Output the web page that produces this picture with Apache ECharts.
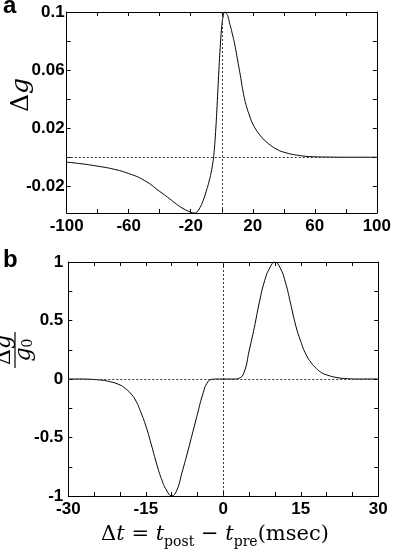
<!DOCTYPE html>
<html>
<head>
<meta charset="utf-8">
<script src="https://cdn.jsdelivr.net/npm/echarts@6/dist/echarts.min.js"></script>
<style>html,body{margin:0;padding:0;background:#fff}#c{width:394px;height:551px}</style>
</head>
<body>
<div id="c"></div>
<script>
// Panel a: Δg vs Δt (ms)
const aX = [-100,-90,-80,-70,-60,-50,-40,-35,-30,-25,-20,-18,-16,-14,-12,-10,-9,-8,-7,-6,-5,-4,-3,-2,-1,0,1,2,3,4,5,6,7,8,9,10,12,14,16,18,20,25,30,35,40,50,60,70,80,90,100];
const aY = [-0.0034,-0.0046,-0.0062,-0.0082,-0.0113,-0.0160,-0.0237,-0.0276,-0.0318,-0.0355,-0.0380,-0.0386,-0.0378,-0.0348,-0.0300,-0.0235,-0.0200,-0.0160,-0.0112,-0.0055,0.0030,0.0170,0.0360,0.0570,0.0760,0.0905,0.0980,0.1005,0.0995,0.0975,0.0930,0.0890,0.0845,0.0800,0.0745,0.0685,0.0565,0.0440,0.0350,0.0285,0.0230,0.0148,0.0095,0.0058,0.0035,0.0012,0.0003,0.0001,0,0,0];
const aXTicks = [-100,-80,-60,-40,-20,0,20,40,60,80,100];
const aXLabels = [-100,-60,-20,20,60,100];
const aYTicks = [-0.02,0,0.02,0.04,0.06,0.08,0.1];
const aYLabels = [-0.02,0.02,0.06,0.1];

// Panel b: Δg/g0 vs Δt (ms)
const bX = [-30,-28,-26,-24,-22,-20,-19,-18,-17,-16,-15,-14,-13,-12,-11,-10,-9,-8,-7,-6,-5,-4,-3,-2,-1,0,2,3,4,5,6,7,8,9,10,11,12,13,14,15,16,17,18,19,20,22,24,26,28,30];
const bY = [0,0,-0.002,-0.008,-0.022,-0.051,-0.08,-0.12,-0.18,-0.28,-0.40,-0.55,-0.71,-0.85,-0.95,-1.0,-0.95,-0.80,-0.64,-0.47,-0.30,-0.135,-0.025,-0.002,0,0,0,0.006,0.055,0.24,0.44,0.66,0.84,0.95,1.0,0.95,0.83,0.65,0.46,0.32,0.21,0.14,0.09,0.055,0.035,0.012,0.003,0,0,0];
const bXTicks = [-30,-25,-20,-15,-10,-5,0,5,10,15,20,25,30];
const bXLabels = [-30,-15,0,15,30];
const bYTicks = [-1,-0.75,-0.5,-0.25,0,0.25,0.5,0.75,1];
const bYLabels = [-1,-0.5,0,0.5,1];

const tickFont = {color:'#000', fontFamily:'Liberation Sans', fontWeight:'bold', fontSize:17};
const serif = 'DejaVu Serif';

function xAx(grid, min, max, ticks, labels, top){
  return {type:'value', gridIndex:grid, min:min, max:max, position: top?'top':'bottom',
    axisLine:{show:true, onZero:false, lineStyle:{color:'#000', width:1}},
    axisTick:{show:true, inside:true, length:4, customValues:ticks, lineStyle:{color:'#000'}},
    axisLabel: top ? {show:false} : Object.assign({show:true, margin:5, customValues:labels}, tickFont),
    splitLine:{show:false}};
}
function yAx(grid, min, max, ticks, labels, right, margin){
  return {type:'value', gridIndex:grid, min:min, max:max, position: right?'right':'left',
    axisLine:{show:true, onZero:false, lineStyle:{color:'#000', width:1}},
    axisTick:{show:true, inside:true, length:4, customValues:ticks, lineStyle:{color:'#000'}},
    axisLabel: right ? {show:false} : Object.assign({show:true, margin:margin, customValues:labels}, tickFont),
    splitLine:{show:false}};
}
const refLine = {silent:true, symbol:'none', label:{show:false},
  lineStyle:{type:[2,2], color:'#333', width:1}, data:[{yAxis:0},{xAxis:0}]};

const chart = echarts.init(document.getElementById('c'), null, {renderer:'canvas'});
chart.setOption({
  animation:false,
  backgroundColor:'#fff',
  grid:[
    {left:66.7, top:12, width:312.3, height:201},
    {left:68.3, top:262, width:310, height:234}
  ],
  xAxis:[
    xAx(0,-100,100,aXTicks,aXLabels,false),
    xAx(0,-100,100,aXTicks,aXLabels,true),
    xAx(1,-30,30,bXTicks,bXLabels,false),
    xAx(1,-30,30,bXTicks,bXLabels,true)
  ],
  yAxis:[
    yAx(0,-0.0386,0.1005,aYTicks,aYLabels,false,2),
    yAx(0,-0.0386,0.1005,aYTicks,aYLabels,true,2),
    yAx(1,-1,1,bYTicks,bYLabels,false,5),
    yAx(1,-1,1,bYTicks,bYLabels,true,5)
  ],
  series:[
    {type:'line', xAxisIndex:0, yAxisIndex:0, data:aX.map((x,i)=>[x,aY[i]]),
     symbol:'none', smooth:0.5, lineStyle:{color:'#000', width:1}, markLine:refLine},
    {type:'line', xAxisIndex:2, yAxisIndex:2, data:bX.map((x,i)=>[x,bY[i]]),
     symbol:'none', smooth:0.5, lineStyle:{color:'#000', width:1}, markLine:refLine}
  ],
  graphic:[
    {type:'text', left:3, top:-6, style:{text:'a', fontFamily:'Liberation Sans', fontWeight:'bold', fontSize:24, fill:'#000'}},
    {type:'text', left:3, top:248, style:{text:'b', fontFamily:'Liberation Sans', fontWeight:'bold', fontSize:24, fill:'#000'}},
    {type:'text', x:21, y:95, rotation:Math.PI/2,
     style:{text:'{n|Δ}{i|g}', align:'center', verticalAlign:'middle',
       rich:{n:{fontFamily:serif, fontSize:25, fill:'#000'}, i:{fontFamily:serif, fontStyle:'italic', fontSize:25, fill:'#000'}}}},
    {type:'group', x:15, y:350, rotation:Math.PI/2, children:[
      {type:'text', x:0, y:-11, style:{text:'{n|Δ}{i|g}', align:'center', verticalAlign:'middle',
        rich:{n:{fontFamily:serif, fontSize:22, fill:'#000'}, i:{fontFamily:serif, fontStyle:'italic', fontSize:22, fill:'#000'}}}},
      {type:'line', shape:{x1:-18, y1:0, x2:18, y2:0}, style:{stroke:'#000', lineWidth:1.2}},
      {type:'text', x:0, y:9, style:{text:'{i|g}{s|0}', align:'center', verticalAlign:'middle',
        rich:{i:{fontFamily:serif, fontStyle:'italic', fontSize:22, fill:'#000', lineHeight:22}, s:{fontFamily:serif, fontSize:14, fill:'#000', verticalAlign:'bottom', lineHeight:22}}}}
    ]},
    {type:'text', x:215, y:535,
     style:{text:'{n|Δ}{i|t}{n| = }{i|t}{s|post}{n| − }{i|t}{s|pre}{n|(msec)}', align:'center', verticalAlign:'middle',
       rich:{n:{fontFamily:serif, fontSize:21, fill:'#000', lineHeight:28}, i:{fontFamily:serif, fontStyle:'italic', fontSize:21, fill:'#000', lineHeight:28},
             s:{fontFamily:serif, fontSize:14, fill:'#000', verticalAlign:'bottom', lineHeight:28}}}}
  ]
});
</script>
</body>
</html>
